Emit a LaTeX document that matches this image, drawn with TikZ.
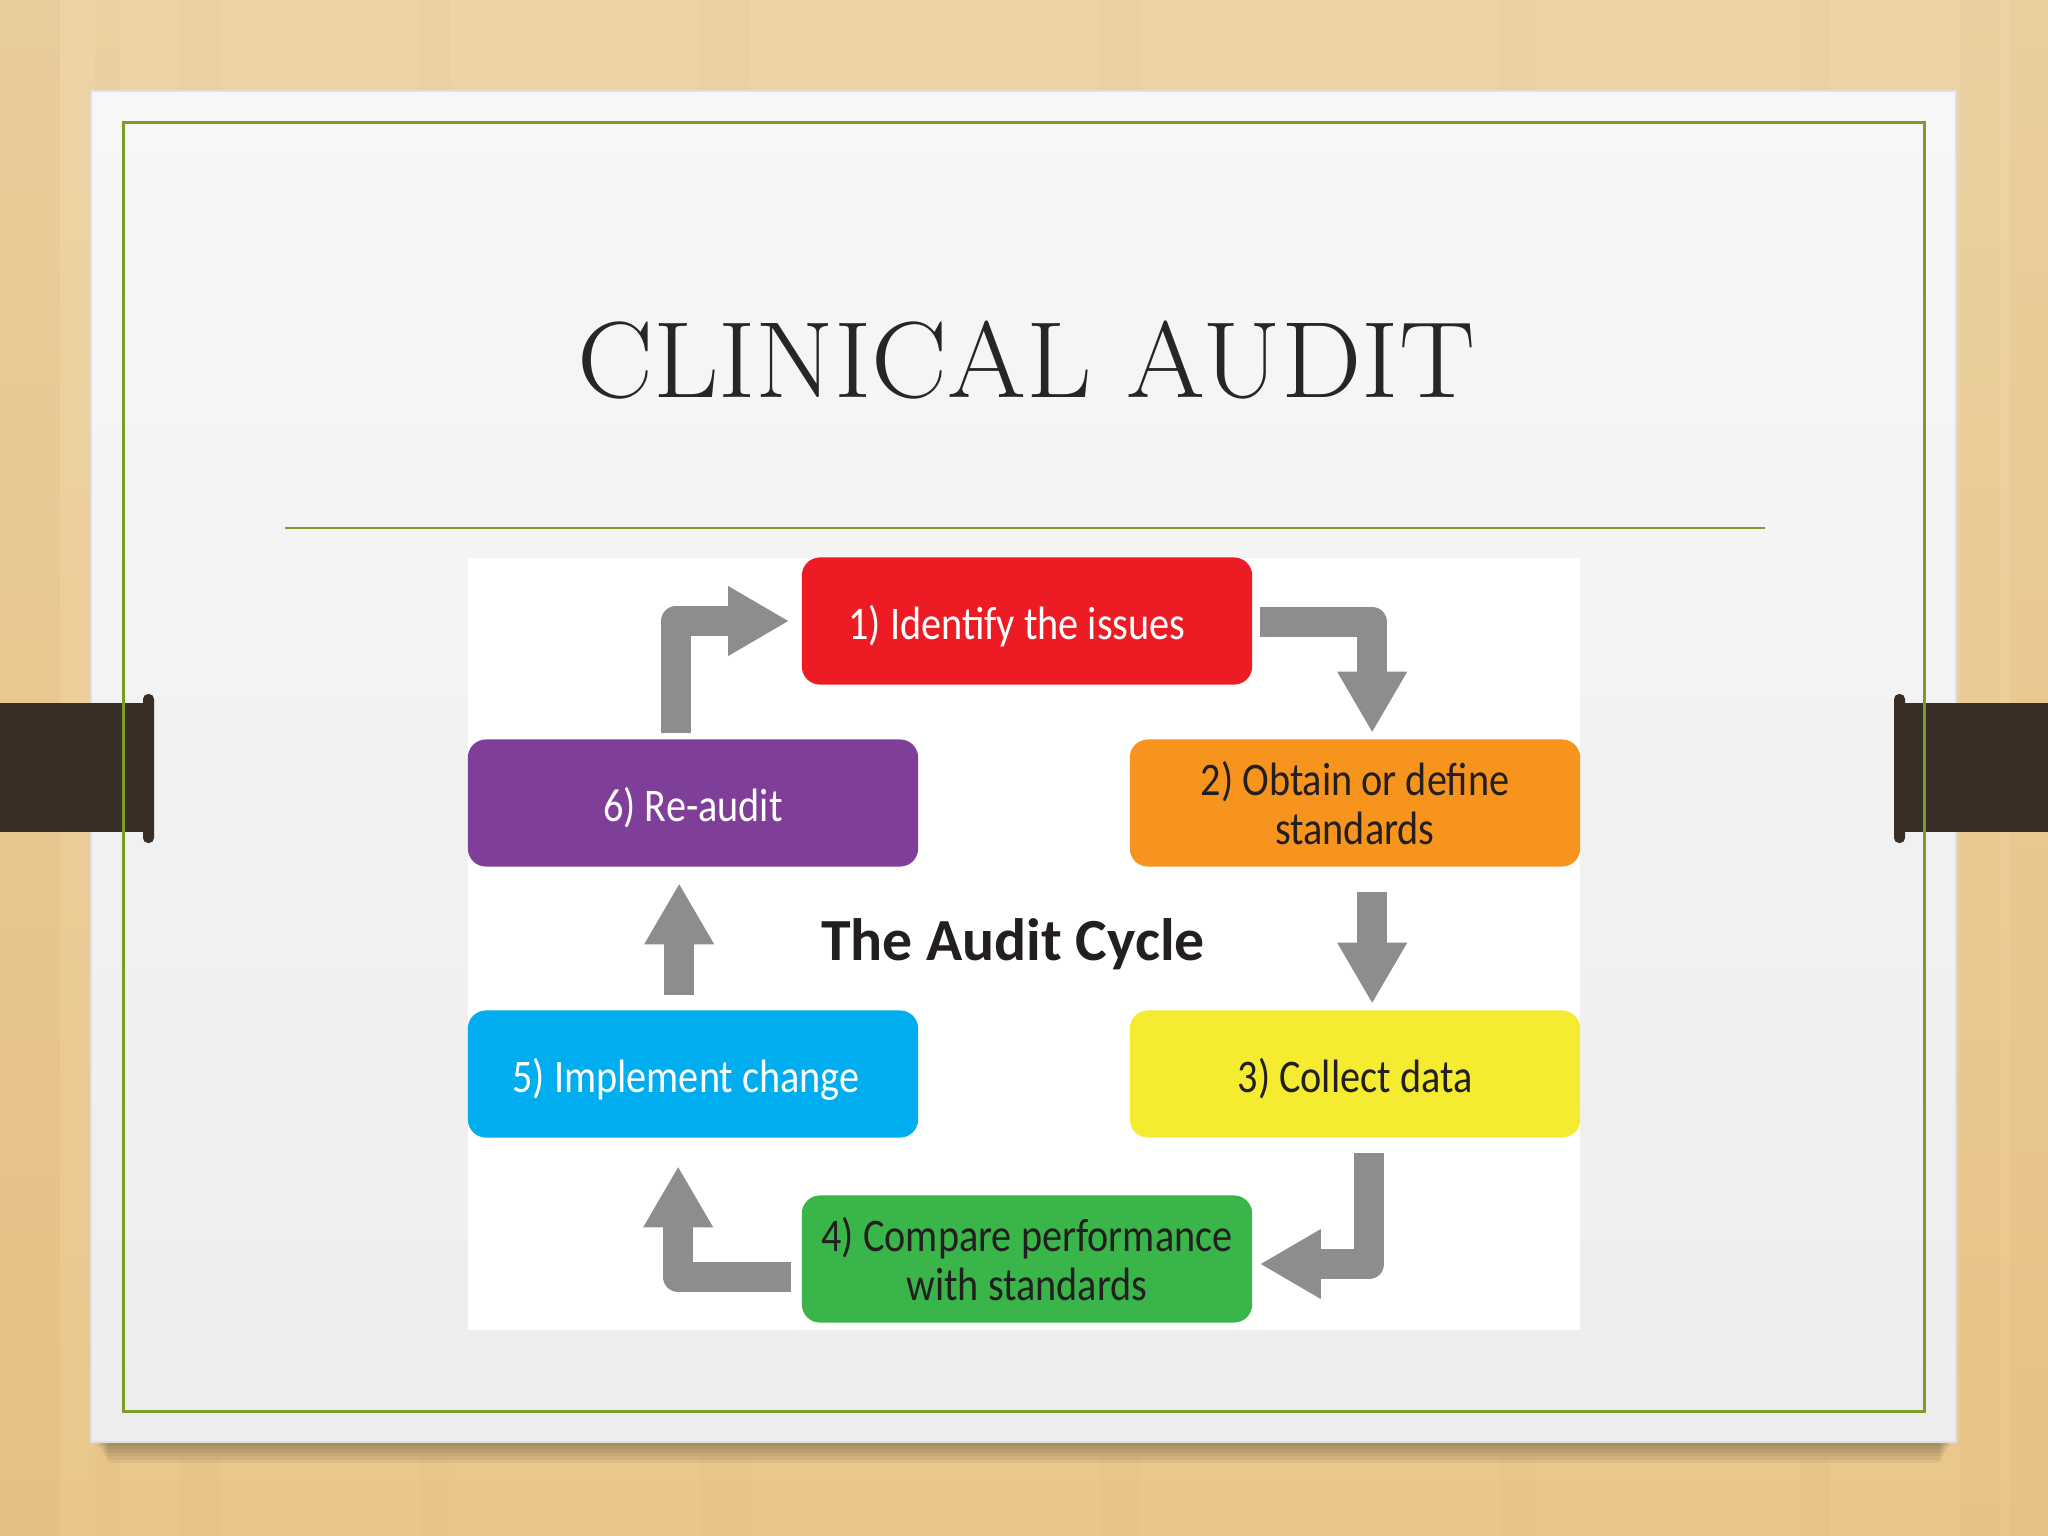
\documentclass[tikz,border=0pt]{standalone}
\usepackage{fontspec}
\usetikzlibrary{arrows.meta,calc}
\newfontfamily\boxfont[FakeStretch=0.86]{Carlito}
\newfontfamily\cyclefont{Carlito}
\definecolor{cred}{HTML}{ED1C24}
\definecolor{corange}{HTML}{F7941E}
\definecolor{cyellow}{HTML}{F5EB30}
\definecolor{cgreen}{HTML}{3AB54A}
\definecolor{cblue}{HTML}{00AEEF}
\definecolor{cpurple}{HTML}{7F3F98}
\definecolor{arrowgray}{HTML}{8D8D90}
\definecolor{ctext}{HTML}{231F20}
\definecolor{titlecol}{HTML}{262626}
\definecolor{bordergreen}{HTML}{7D9B2B}
\definecolor{tabdark}{HTML}{3A2F26}
\definecolor{woodtop}{HTML}{EDD4A6}
\definecolor{woodbot}{HTML}{EAC68A}
\definecolor{woodstreak}{HTML}{C98E45}
\definecolor{cardtop}{HTML}{F7F7F7}
\definecolor{cardbot}{HTML}{EDEDED}
\begin{document}
\begin{tikzpicture}[x=0.01cm,y=-0.01cm,
  stepbox/.style={rounded corners=0.18cm, minimum width=4.5cm, minimum height=1.27cm,
    inner sep=0pt, align=center,
    font=\boxfont\fontsize{13.3pt}{13.8pt}\selectfont},
  onelinebox/.style={stepbox, text height=0.44cm},
  garrow/.style={draw=arrowgray, line width=0.3cm, line join=round,
    -{Triangle[length=0.6cm,width=0.7cm,line width=0pt]}}]
\useasboundingbox (0,0) rectangle (2048,1536);
% wooden background
\shade[top color=woodtop, bottom color=woodbot] (0,0) rectangle (2048,1536);
\foreach \xa/\w/\o in {0/60/0.10, 95/25/0.05, 180/40/0.04, 420/30/0.03, 700/50/0.03, 1100/40/0.03, 1500/35/0.03, 1800/30/0.04, 1960/40/0.06, 2010/38/0.08}
  \fill[woodstreak, opacity=\o] (\xa,0) rectangle (\xa+\w,1536);
% card shadow
\foreach \i in {1,...,6}
  \fill[black, opacity=0.05] (96+2*\i,1442) rectangle (1952-2*\i,1442+3.5*\i);
% card
\shade[top color=cardtop, bottom color=cardbot] (91,91) rectangle (1956,1442);
\draw[black!12, line width=0.4pt] (91,91) rectangle (1956,1442);
% tabs
\fill[tabdark] (0,703) rectangle (150,832);
\fill[tabdark, rounded corners=0.05cm] (143,694) rectangle (154,843);
\fill[tabdark] (1898,703) rectangle (2048,832);
\fill[tabdark, rounded corners=0.05cm] (1894,694) rectangle (1905,843);
% green border and rule
\draw[bordergreen, line width=0.035cm] (123.5,122.5) rectangle (1924.5,1411.5);
\draw[bordergreen, line width=0.022cm] (285,528) -- (1765,528);
% title
\node[anchor=base, text=titlecol, inner sep=0pt,
  font=\fontsize{30.8pt}{34pt}\selectfont] (title) at (1026,397) {\scalebox{1.05}[1]{CLINICAL AUDIT}};
% diagram panel
\fill[white] (468,558) rectangle (1580,1330);
% steps
\node[onelinebox, fill=cred, text=white] (p1) at (1027,621) {1) Identify the issues\kern0.2cm};
\node[stepbox, fill=corange, text=ctext] (p2) at (1355,803) {2) Obtain or define\\standards};
\node[onelinebox, fill=cyellow, text=ctext] (p3) at (1355,1074) {3) Collect data};
\node[stepbox, fill=cgreen, text=ctext] (p4) at (1027,1259) {4) Compare performance\\with standards};
\node[onelinebox, fill=cblue, text=white] (p5) at (693,1074) {5) Implement change\kern0.14cm};
\node[onelinebox, fill=cpurple, text=white] (p6) at (693,803) {6) Re-audit};
\node[anchor=base, inner sep=0pt, text=ctext,
  font=\cyclefont\bfseries\fontsize{17pt}{19pt}\selectfont] (cycle) at (1013,960) {The Audit Cycle};
% connectors
\draw[garrow] ($(p6.north west)+(209,-6)$) |- ($(p1.west)+(-13,0)$);
\draw[garrow] ($(p1.east)+(7,1)$) -| ($(p2.north west)+(243,-7)$);
\draw[garrow] ($(p2.south west)+(243,25)$) -- ($(p3.north west)+(243,-7)$);
\draw[garrow] ($(p3.south west)+(240,15)$) |- ($(p4.east)+(8,5)$);
\draw[garrow] ($(p4.west)+(-10,18)$) -| ($(p5.south west)+(211,29)$);
\draw[garrow] ($(p5.north west)+(212,-15)$) -- ($(p6.south west)+(212,17)$);
\end{tikzpicture}
\end{document}
